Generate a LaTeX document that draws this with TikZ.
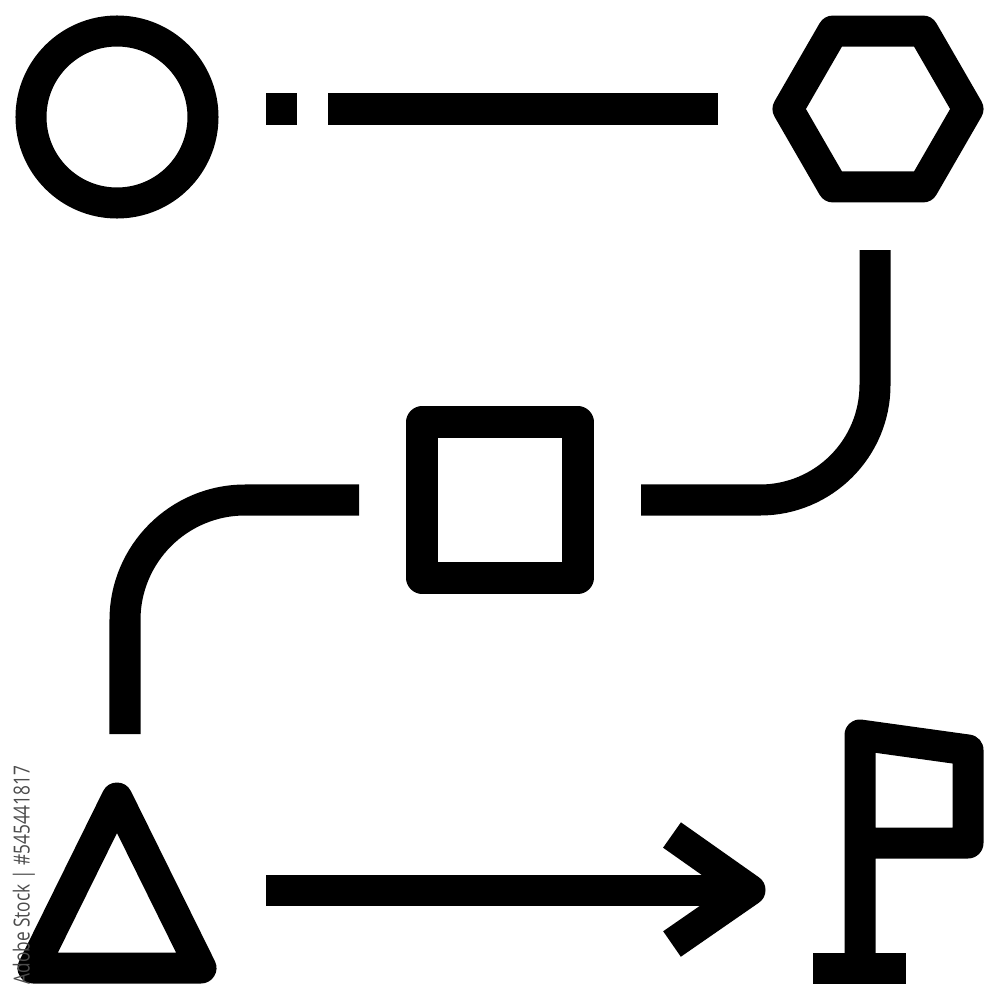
\documentclass[tikz,border=0pt]{standalone}
\usepackage{fontspec}
\newfontfamily\stockfont{Open Sans}
\usetikzlibrary{positioning}

\begin{document}
\begin{tikzpicture}[x=0.01cm,y=-0.01cm,
    outline/.style={line width=0.31cm, line join=round},
    bar/.style={line width=0.31cm, line cap=butt}]

  \useasboundingbox (0,0) rectangle (1000,1000);

  \def\hexr{90} % hexagon radius
  \def\bend{1.15cm} % radius of the bends

  % shapes
  \draw[outline] (117,117) circle (86);
  \draw[outline,shift={(878,109)}] (0:\hexr)
    \foreach \a in {60,120,...,300} { -- (\a:\hexr) } -- cycle;
  \draw[outline] (422,422) rectangle (578,578);
  \draw[outline] (117,798) -- (201,968) -- (33,968) -- cycle;

  % flag
  \draw[outline] (860,968) -- (860,735) -- (968,750) -- (968,843) -- (860,843);
  \coordinate (baseL) at (813,968);
  \coordinate (baseR) at (906,968);
  \draw[bar] (baseL) -- (baseR);

  % connectors
  \coordinate (dotA) at (266,109);
  \coordinate (dotB) at (297,109);
  \coordinate (lineA) at (328,109);
  \coordinate (lineB) at (718,109);
  \draw[bar] (dotA) -- (dotB);
  \draw[bar] (lineA) -- (lineB);

  \coordinate (hexdown) at (875,250);
  \coordinate (sqright) at (641,500);
  \draw[bar,rounded corners=\bend] (hexdown) -- (hexdown |- sqright) -- (sqright);

  \coordinate (sqleft) at (359,500);
  \coordinate (triup) at (125,734);
  \draw[bar,rounded corners=1.2cm] (sqleft) -- (triup |- sqleft) -- (triup);

  \coordinate (arrA) at (266,890);
  \coordinate (arrB) at (745,890);
  \draw[bar] (arrA) -- (arrB);
  \draw[outline] (672,835) -- (750,890) -- (672,944);

  \node[rotate=90, inner sep=0, text=black!70, font=\stockfont\fontsize{6.3}{7}\selectfont]
    (stock) at (24,875) {\scalebox{0.78}[1]{Adobe Stock | \#545441817}};

\end{tikzpicture}
\end{document}
